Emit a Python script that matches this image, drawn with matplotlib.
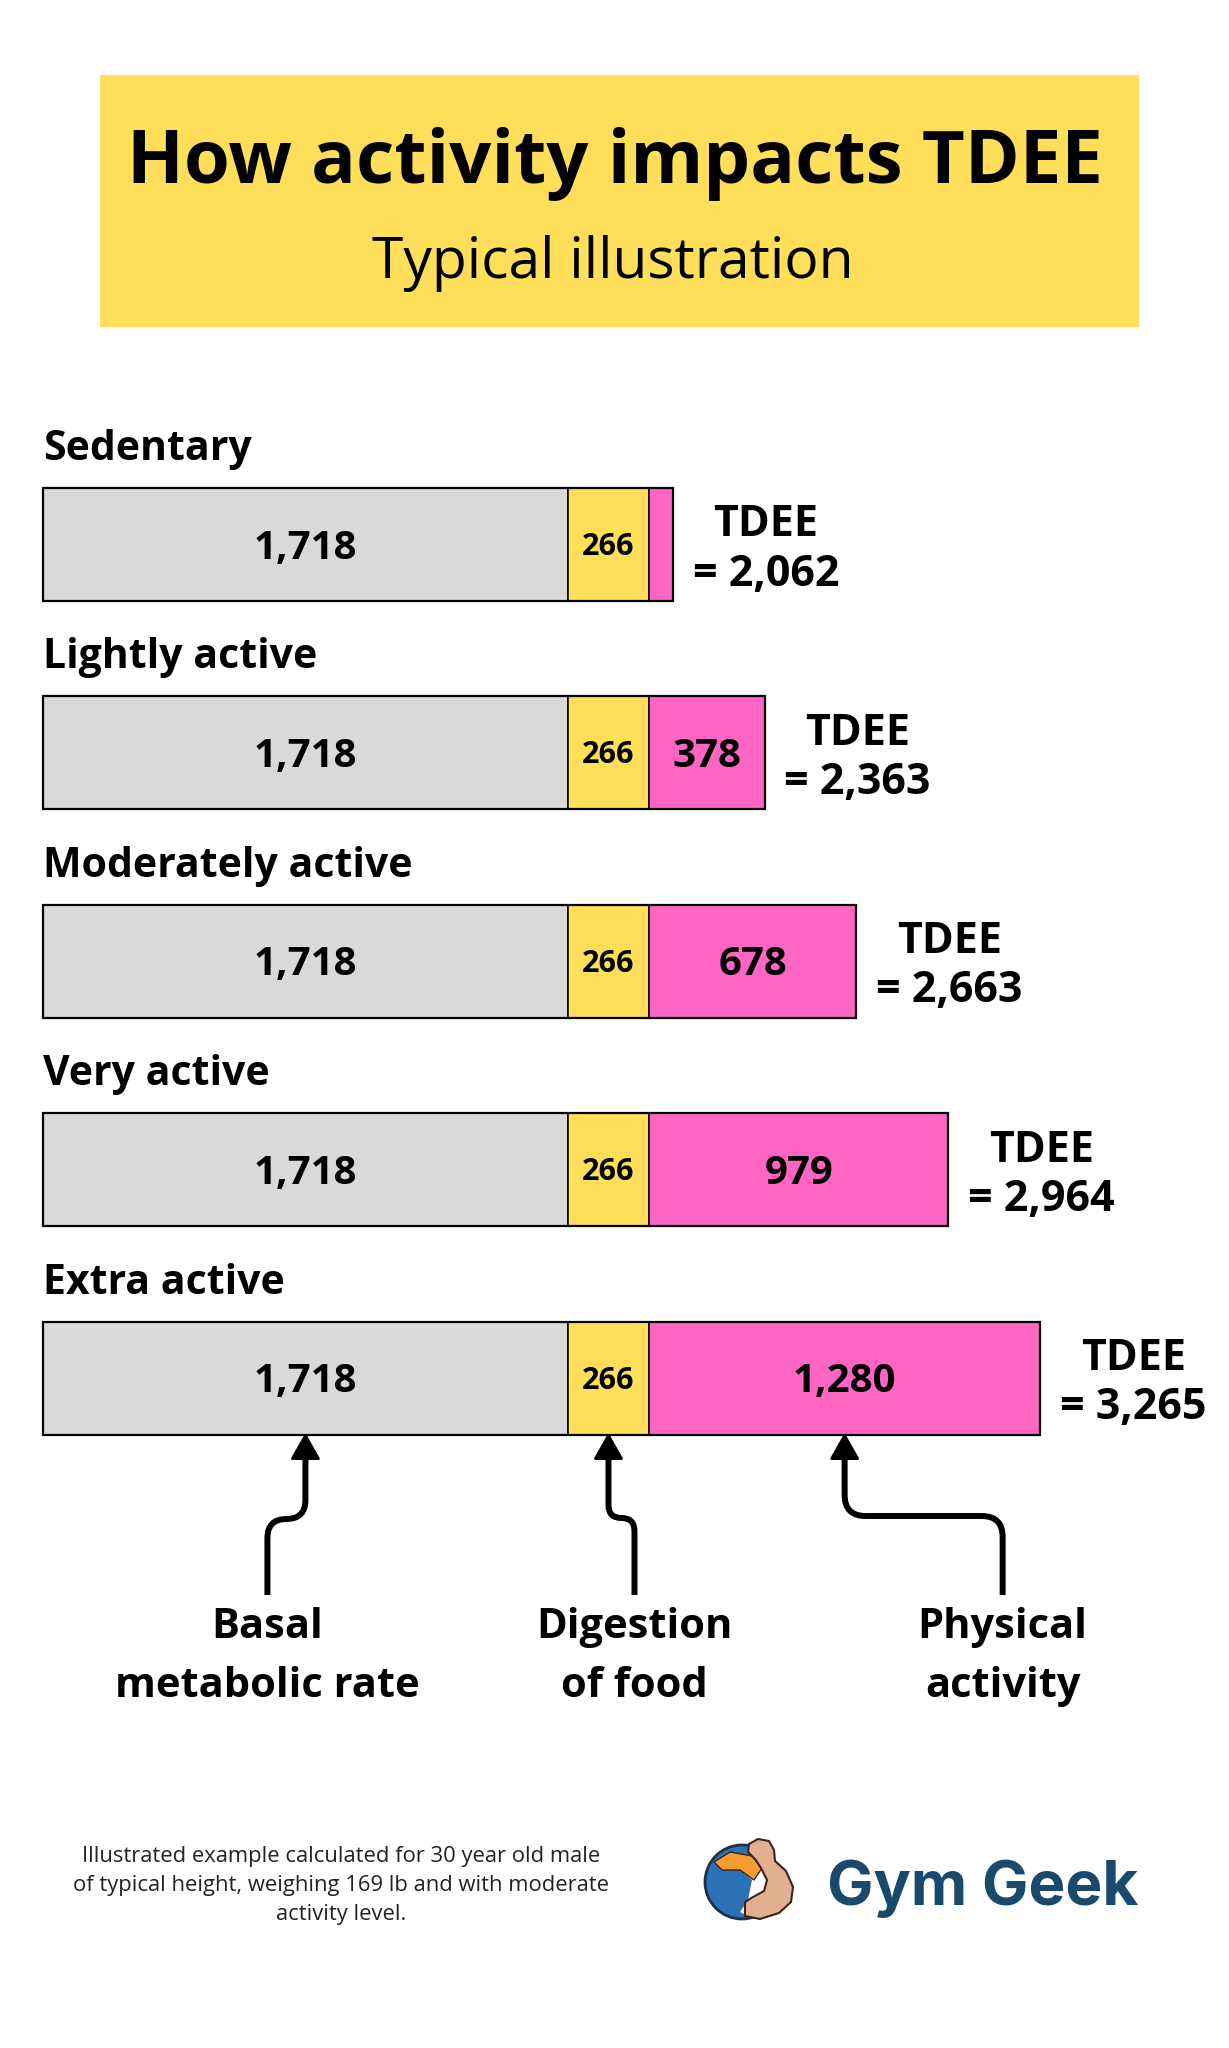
import numpy as np
import matplotlib.pyplot as plt
from matplotlib.patches import Rectangle, Circle, Polygon, PathPatch
from matplotlib.path import Path
from matplotlib.transforms import offset_copy

W, H = 1229, 2048

categories = ["Sedentary", "Lightly active", "Moderately active", "Very active", "Extra active"]
bmr = [1718, 1718, 1718, 1718, 1718]
digestion = [266, 266, 266, 266, 266]
activity = [78, 378, 678, 979, 1280]
tdee = [2062, 2363, 2663, 2964, 3265]
part_labels = [("Basal", "metabolic rate"), ("Digestion", "of food"), ("Physical", "activity")]
footnote = ["Illustrated example calculated for 30 year old male",
            "of typical height, weighing 169 lb and with moderate",
            "activity level."]

GREY, YELLOW, PINK = "#d9d9d9", "#ffde59", "#ff66c4"
plt.rcParams["font.family"] = ["Open Sans", "DejaVu Sans"]

fig = plt.figure(figsize=(W / 100, H / 100), dpi=100)

# background axes in pixel units (y down)
bg = fig.add_axes([0, 0, 1, 1])
bg.set_xlim(0, W)
bg.set_ylim(H, 0)
bg.axis("off")

# bar axes: x in kcal, y in row index
ax = fig.add_axes([0, 0, 1, 1])
ax.axis("off")
x0, px_per_kcal = 43, 0.3055
row0, row_step = 544.5, 208.4
ax.set_xlim(-x0 / px_per_kcal, (W - x0) / px_per_kcal)
ax.set_ylim((H - row0) / row_step, -row0 / row_step)
bar_h = 113 / row_step

y = np.arange(len(categories))
b = np.array(bmr)
d = np.array(digestion)
a = np.array(activity)
ax.barh(y, b, height=bar_h, color=GREY, edgecolor="black", lw=1.1)
ax.barh(y, d, left=b, height=bar_h, color=YELLOW, edgecolor="black", lw=1.1)
ax.barh(y, a, left=b + d, height=bar_h, color=PINK, edgecolor="black", lw=1.1)
ax.barh(y, b + d + a, height=bar_h, fill=False, edgecolor="black", lw=1.6)


def off(dx, dy):
    # offset in pixels, dy positive = down
    return offset_copy(ax.transData, fig=fig, x=dx, y=-dy, units="dots")


for i, name in enumerate(categories):
    ax.text(0, i - bar_h / 2, name, transform=off(0, -28), fontsize=29.5,
            weight="bold", ha="left", va="baseline")
    ax.text(b[i] / 2, i, f"{b[i]:,}", transform=off(0, 14), fontsize=29,
            weight="bold", ha="center", va="baseline")
    ax.text(b[i] + d[i] / 2, i, f"{d[i]:,}", transform=off(0, 10.5), fontsize=22,
            weight="bold", ha="center", va="baseline")
    if a[i] > 200:
        ax.text(b[i] + d[i] + a[i] / 2, i, f"{a[i]:,}", transform=off(0, 14),
                fontsize=29, weight="bold", ha="center", va="baseline")
    end = b[i] + d[i] + a[i]
    ax.text(end, i, "TDEE", transform=off(93, -8), fontsize=31,
            weight="bold", ha="center", va="baseline")
    ax.text(end, i, f"= {tdee[i]:,}", transform=off(93, 41), fontsize=31,
            weight="bold", ha="center", va="baseline")

# title block
bg.add_patch(Rectangle((100, 75), 1039, 252, color=YELLOW, lw=0))
bg.text(615, 183, "How activity impacts TDEE", fontsize=53.5, weight="bold",
        ha="center", va="baseline")
bg.text(613, 278, "Typical illustration", fontsize=41, ha="center", va="baseline")

# arrows pointing at the segments of the last bar
last = len(categories) - 1
centers = [b[last] / 2, b[last] + d[last] / 2, b[last] + d[last] + a[last] / 2]
shifts = [-38, 26, 158]
bends = [(1500, 19), (1505, 13), (1495, 21)]
bottom = row0 + last * row_step + 113 / 2
tip, head_base, tail = bottom + 1, bottom + 24, 1595
for kc, sh, (yb, r), lab in zip(centers, shifts, bends, part_labels):
    xc = ax.transData.transform((kc, 0))[0]
    xt = xc + sh
    sgn = np.sign(sh)
    verts = [(xc, head_base - 2), (xc, yb), (xc, yb + r), (xc + sgn * r, yb + r),
             (xt - sgn * r, yb + r), (xt, yb + r), (xt, yb + 2 * r), (xt, tail)]
    codes = [Path.MOVETO, Path.LINETO, Path.CURVE3, Path.CURVE3,
             Path.LINETO, Path.CURVE3, Path.CURVE3, Path.LINETO]
    bg.add_patch(PathPatch(Path(verts, codes), fill=False, lw=4.3,
                           edgecolor="black", capstyle="butt"))
    bg.add_patch(Polygon([(xc - 13, head_base), (xc, tip), (xc + 13, head_base)],
                         closed=True, color="black", lw=2, joinstyle="round"))
    bg.text(xt, 1638, lab[0], fontsize=30, weight="bold", ha="center", va="baseline")
    bg.text(xt, 1697, lab[1], fontsize=30, weight="bold", ha="center", va="baseline")

# footnote
for k, line in enumerate(footnote):
    bg.text(341, 1862 + 29 * k, line, fontsize=15.8, ha="center", va="baseline",
            color="#222222")

# logo (rough sketch of the flexing-arm badge)
bg.add_patch(Circle((742, 1882), 37, facecolor="#2b73b6", edgecolor="#1c3147", lw=2))
bg.add_patch(Polygon([(722, 1870), (738, 1868), (752, 1880), (748, 1900), (740, 1912),
                      (752, 1918), (770, 1916), (776, 1895), (760, 1866)],
                     closed=True, facecolor="white", lw=0))
bg.add_patch(Polygon([(714, 1862), (730, 1852), (752, 1856), (762, 1868), (754, 1880),
                      (740, 1870), (722, 1870)],
                     closed=True, facecolor="#f59d32", edgecolor="#3a2418", lw=1))
bg.add_patch(Polygon([(745, 1916), (760, 1919), (779, 1913), (791, 1902), (793, 1887),
                      (786, 1871), (775, 1861), (774, 1850), (769, 1841), (758, 1839),
                      (749, 1844), (748, 1852), (755, 1859), (761, 1868), (767, 1880),
                      (764, 1891), (753, 1897), (745, 1902)],
                     closed=True, facecolor="#e2b091", edgecolor="#3a2418", lw=1.5))
bg.text(827, 1905, "Gym Geek", fontsize=44.6, weight="bold", color="#1a4a6b",
        family=["Inter", "DejaVu Sans"], ha="left", va="baseline")

fig.savefig("out.png", dpi=100)
